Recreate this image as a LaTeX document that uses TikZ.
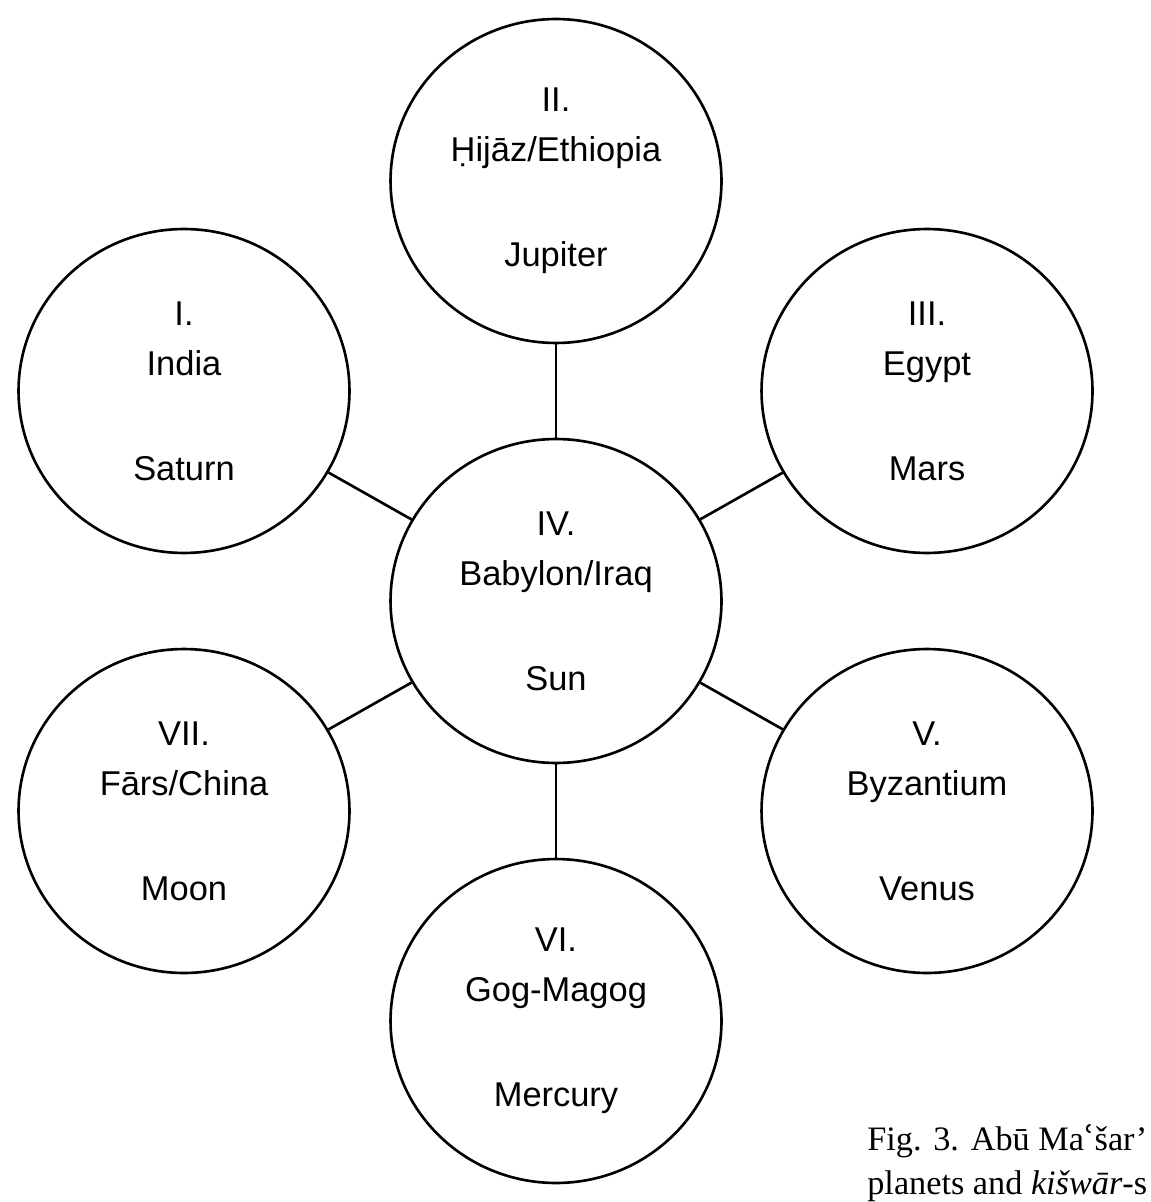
\documentclass[tikz,border=0pt]{standalone}
\usepackage{fontspec}
\setmainfont{Liberation Serif}
\newfontfamily\diagfont{Liberation Sans}
\newfontfamily\ringfont{DejaVu Serif}
\usetikzlibrary{shapes.geometric}

\begin{document}
\begin{tikzpicture}[x=0.02cm, y=-0.02cm,
    kishwar/.style={ellipse, draw, line width=1.5pt, minimum width=6.62cm, minimum height=6.48cm,
        inner sep=0pt, align=center, font=\diagfont\fontsize{19.6}{28.45}\selectfont},
    link/.style={line width=1.5pt}]
    \useasboundingbox (0,0) rectangle (1151,1202);

    % Seven climes around the centre
    \node[kishwar] (babylon) at (556,601) {IV.\\Babylon/Iraq\\[1.1cm]Sun};
    \node[kishwar] (hijaz) at (556,181) {II.\\Ḥijāz/Ethiopia\\[1.1cm]Jupiter};
    \node[kishwar] (india) at (184,391) {I.\\India\\[1.1cm]Saturn};
    \node[kishwar] (egypt) at (927,391) {III.\\Egypt\\[1.1cm]Mars};
    \node[kishwar] (fars) at (184,811) {VII.\\Fārs/China\\[1.1cm]Moon};
    \node[kishwar] (byzantium) at (927,811) {V.\\Byzantium\\[1.1cm]Venus};
    \node[kishwar] (gogmagog) at (556,1021) {VI.\\Gog-Magog\\[1.1cm]Mercury};

    \foreach \clime in {hijaz, india, egypt, fars, byzantium, gogmagog}
        \draw[link] (babylon) -- (\clime);

    % Caption
    \node[anchor=base west, inner sep=0pt, text width=5.6cm, align=justify,
        font=\fontsize{19.5}{25.6}\selectfont] (caption) at (867,1150)
        {Fig. 3. Abū Ma{\ringfont ʿ}šar’\linebreak planets and \textit{kišwār}-s};
\end{tikzpicture}
\end{document}
